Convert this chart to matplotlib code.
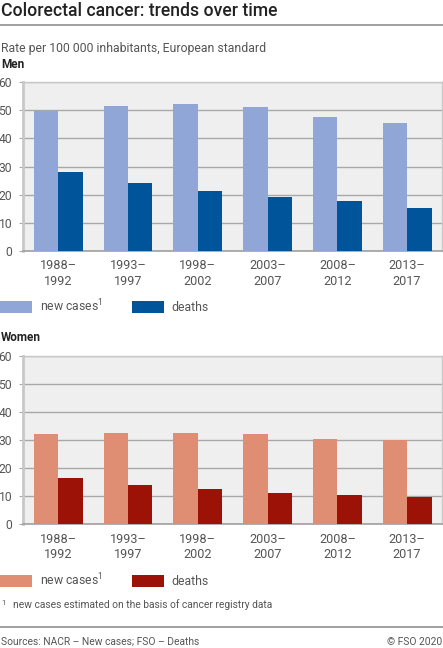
import matplotlib
matplotlib.use("Agg")
import matplotlib.pyplot as plt
from matplotlib.patches import Patch
import numpy as np

plt.rcParams['font.family'] = ['Roboto', 'DejaVu Sans']

periods = ["1988–\n1992", "1993–\n1997", "1998–\n2002", "2003–\n2007", "2008–\n2012", "2013–\n2017"]
men_new = [49.8, 51.6, 52.3, 51.1, 47.5, 45.4]
men_deaths = [27.9, 24.3, 21.2, 19.0, 17.9, 15.4]
women_new = [32.3, 32.5, 32.4, 32.2, 30.2, 30.1]
women_deaths = [16.4, 14.0, 12.5, 11.0, 10.3, 9.6]
yticks = [0, 10, 20, 30, 40, 50, 60]

W, H = 443, 648
fig = plt.figure(figsize=(W / 100, H / 100), dpi=100)

def fx(px):
    return px / W

def fy(py):
    return 1 - py / H

TICK = "#555555"

def panel(top, bottom, new, deaths, c_new, c_deaths):
    left, right = 23.3, 442
    ax = fig.add_axes([fx(left), fy(bottom), fx(right - left), (bottom - top) / H])
    ax.set_facecolor("#efefef")
    x = np.arange(len(periods))
    w = 0.35
    ax.bar(x - w / 2, new, w, color=c_new, zorder=3)
    ax.bar(x + w / 2, deaths, w, color=c_deaths, zorder=3)
    ax.set_xlim(-0.5, len(periods) - 0.5)
    ax.set_ylim(0, 60)
    ax.set_yticks(yticks)
    ax.set_yticklabels([str(v) for v in yticks])
    ax.yaxis.grid(True, color="#a8a8a8", linewidth=1.0, zorder=0)
    ax.set_axisbelow(True)
    ax.set_xticks(x)
    ax.set_xticklabels(periods, linespacing=1.25)
    ax.tick_params(axis="y", length=3, color="#a8a8a8", labelcolor=TICK, labelsize=8.7, pad=5)
    ax.tick_params(axis="x", length=0, labelcolor=TICK, labelsize=9.1, pad=6)
    for s in ["top", "right"]:
        ax.spines[s].set_color("#c8c8c8")
        ax.spines[s].set_linewidth(1.0)
    ax.spines["left"].set_color("#c8c8c8")
    ax.spines["left"].set_linewidth(2.0)
    ax.spines["bottom"].set_color("#a0a0a0")
    ax.spines["bottom"].set_linewidth(1.2)
    return ax

ax1 = panel(82, 251, men_new, men_deaths, "#8fa6d6", "#00549a")
ax2 = panel(355.7, 524.3, women_new, women_deaths, "#e08e73", "#9c1207")

def legend(top, c_new, c_deaths):
    handles = [Patch(facecolor=c_new), Patch(facecolor=c_deaths)]
    fig.legend(handles, ["new cases$^{\\mathregular{1}}$", "deaths"], loc="upper left",
               bbox_to_anchor=(fx(0), fy(top)), ncol=2, frameon=False,
               fontsize=8.8, labelcolor=TICK, handlelength=2.6, handleheight=1.15,
               handletextpad=0.65, columnspacing=2.4, borderaxespad=0, borderpad=0)

legend(297.5, "#8fa6d6", "#00549a")
legend(571.5, "#e08e73", "#9c1207")

# title and texts
fig.text(fx(1), fy(15.5), "Colorectal cancer: trends over time", fontsize=12.7,
         fontweight="medium", color="#222222", va="baseline", ha="left")
fig.add_artist(plt.Line2D([0, 1], [fy(24.5), fy(24.5)], color="#999999", linewidth=1.3))
fig.text(fx(1), fy(52.3), "Rate per 100 000 inhabitants, European standard", fontsize=8.8,
         color=TICK, va="baseline", ha="left")
fig.text(fx(1), fy(67.5), "Men", fontsize=8.5, fontweight="bold", color="#222222",
         va="baseline", ha="left")
fig.text(fx(1), fy(341.5), "Women", fontsize=8.5, fontweight="bold", color="#222222",
         va="baseline", ha="left")
fig.text(fx(1), fy(605), "1", fontsize=5.5, color=TICK, va="baseline", ha="left")
fig.text(fx(13), fy(608.5), "new cases estimated on the basis of cancer registry data",
         fontsize=7.4, color=TICK, va="baseline", ha="left")
fig.add_artist(plt.Line2D([0, 1], [fy(626.7), fy(626.7)], color="#999999", linewidth=1.3))
fig.text(fx(1), fy(645), "Sources: NACR – New cases; FSO – Deaths", fontsize=7.4,
         color=TICK, va="baseline", ha="left")
fig.text(fx(442), fy(645), "© FSO 2020", fontsize=7.4, color=TICK, va="baseline", ha="right")

fig.savefig("out.png", dpi=100, facecolor="white")
